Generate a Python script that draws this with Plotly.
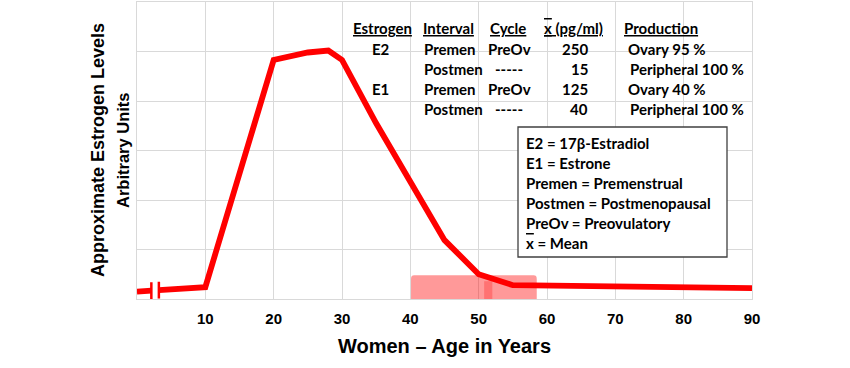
import numpy as np
import plotly.graph_objects as go

# ---------------- data ----------------
ages = [0, 10, 20, 25, 28, 30, 35, 45, 50, 55, 90]
levels = [0.15, 0.24, 4.83, 4.98, 5.02, 4.83, 3.55, 1.19, 0.5, 0.28, 0.22]
axis_break = [2.1, 3.2]          # ages where the axis-break marks sit
menopause_span = [40.1, 58.5]    # shaded menopause window (years)
menopause_level = 0.48
menopause_mean = [50.8, 52.0]    # darker stripe (mean age)
mean_level = 0.36
x_ticks = [10, 20, 30, 40, 50, 60, 70, 80, 90]

tbl_estrogen = ["E2", "", "E1", ""]
tbl_interval = ["Premen", "Postmen", "Premen", "Postmen"]
tbl_cycle = ["PreOv", "-----", "PreOv", "-----"]
tbl_mean = ["250", "15", "125", "40"]
tbl_production = ["Ovary 95 %", "Peripheral 100 %", "Ovary 40 %", "Peripheral 100 %"]

key_lines = ["E2 = 17β-Estradiol", "E1 = Estrone", "Premen = Premenstrual",
             "Postmen = Postmenopausal", "PreOv = Preovulatory",
             "<span style='text-decoration:overline'>x</span> = Mean"]

# ---------------- layout geometry ----------------
W, H = 850, 368
L, R, T, B = 137, 752, 2, 299


def px(x):
    return (x - L) / (R - L)


def py(y):
    return (B - y) / (B - T)


RED = "#FF0000"
TXT = "Lato, 'Open Sans', sans-serif"
AX = "'Liberation Sans', Arial, sans-serif"

# line with the axis break gap
brk_y = list(np.interp(axis_break, ages, levels))
line_x = [ages[0], axis_break[0], None, axis_break[1]] + ages[1:]
line_y = [levels[0], brk_y[0], None, brk_y[1]] + levels[1:]

fig = go.Figure()
fig.add_trace(go.Scatter(x=line_x, y=line_y, mode="lines",
                         line=dict(color=RED, width=5.8), connectgaps=False,
                         hoverinfo="skip", showlegend=False))
fig.add_trace(go.Scatter(x=axis_break, y=brk_y, mode="markers",
                         marker=dict(symbol="line-ns", size=12,
                                     line=dict(color=RED, width=2.5)),
                         hoverinfo="skip", showlegend=False))

# rounded-top rectangle for the menopause window
x0, x1 = menopause_span
rx, ry = 0.45, 0.07
y1 = menopause_level
rect_path = (f"M {x0},0 L {x0},{y1 - ry} Q {x0},{y1} {x0 + rx},{y1} "
             f"L {x1 - rx},{y1} Q {x1},{y1} {x1},{y1 - ry} L {x1},0 Z")

shapes = [
    dict(type="path", xref="x", yref="y", path=rect_path,
         fillcolor="rgba(255,0,0,0.4)", line=dict(width=0), layer="between"),
    dict(type="rect", xref="x", yref="y", x0=menopause_mean[0], x1=menopause_mean[1],
         y0=0, y1=mean_level, fillcolor="rgba(255,0,0,0.25)", line=dict(width=0),
         layer="between"),
    dict(type="rect", xref="paper", yref="paper", x0=px(518), x1=px(727), y0=py(257), y1=py(127),
         fillcolor="white", line=dict(color="#404040", width=1.3), layer="above"),
]

ann = []


def text(s, x, y, anchor="left", size=15):
    ann.append(dict(text=s, xref="paper", yref="paper", x=px(x), y=py(y),
                    xanchor=anchor, yanchor="middle", showarrow=False,
                    font=dict(family=TXT, size=size, color="black", weight="bold")))


# table header
text("<u>Estrogen</u>", 382, 28, "center")
text("<u>Interval</u>", 421, 28)
text("<u>Cycle</u>", 508, 28, "center")
text("<u><span style='text-decoration:underline overline'>x</span> (pg/ml)</u>", 542, 28)
text("<u>Production</u>", 622, 28)
for i in range(4):
    yy = 49 + 20 * i
    if tbl_estrogen[i]:
        text(tbl_estrogen[i], 380.5, yy, "center")
    text(tbl_interval[i], 422, yy)
    text(tbl_cycle[i], 509, yy, "center")
    text(tbl_mean[i], 590, yy, "right")
    text(tbl_production[i], 626 if tbl_production[i].startswith("O") else 628, yy)

for i, s in enumerate(key_lines):
    text(s, 524, 142.5 + 20 * i)

# y-axis titles
ann.append(dict(text="Approximate Estrogen Levels", xref="paper", yref="paper",
                x=px(98), y=py(150), xanchor="center", yanchor="middle", textangle=-90,
                showarrow=False, font=dict(family=AX, size=18, color="black", weight="bold")))
ann.append(dict(text="Arbitrary Units", xref="paper", yref="paper",
                x=px(123), y=py(150), xanchor="center", yanchor="middle", textangle=-90,
                showarrow=False, font=dict(family=AX, size=16.5, color="black", weight="bold")))

fig.update_layout(
    width=W, height=H,
    margin=dict(l=L, r=W - R, t=T, b=H - B),
    paper_bgcolor="white", plot_bgcolor="white",
    shapes=shapes, annotations=ann, showlegend=False,
    xaxis=dict(range=[0, 90], tickvals=x_ticks, showgrid=True, gridcolor="#d9d9d9",
               gridwidth=1, zeroline=False, showline=True, linecolor="#d9d9d9", mirror=True,
               ticks="", ticklabelstandoff=6,
               tickfont=dict(family=AX, size=15, color="black", weight="bold"),
               title=dict(text="Women – Age in Years", standoff=12,
                          font=dict(family=AX, size=20, color="black", weight="bold"))),
    yaxis=dict(range=[0, 6], dtick=1, showgrid=True, gridcolor="#d9d9d9", gridwidth=1,
               zeroline=False, showline=True, linecolor="#d9d9d9", mirror=True,
               showticklabels=False, ticks=""),
)

fig.write_html("out.html", config={"displayModeBar": False},
               post_script="document.body.style.margin='0';")
